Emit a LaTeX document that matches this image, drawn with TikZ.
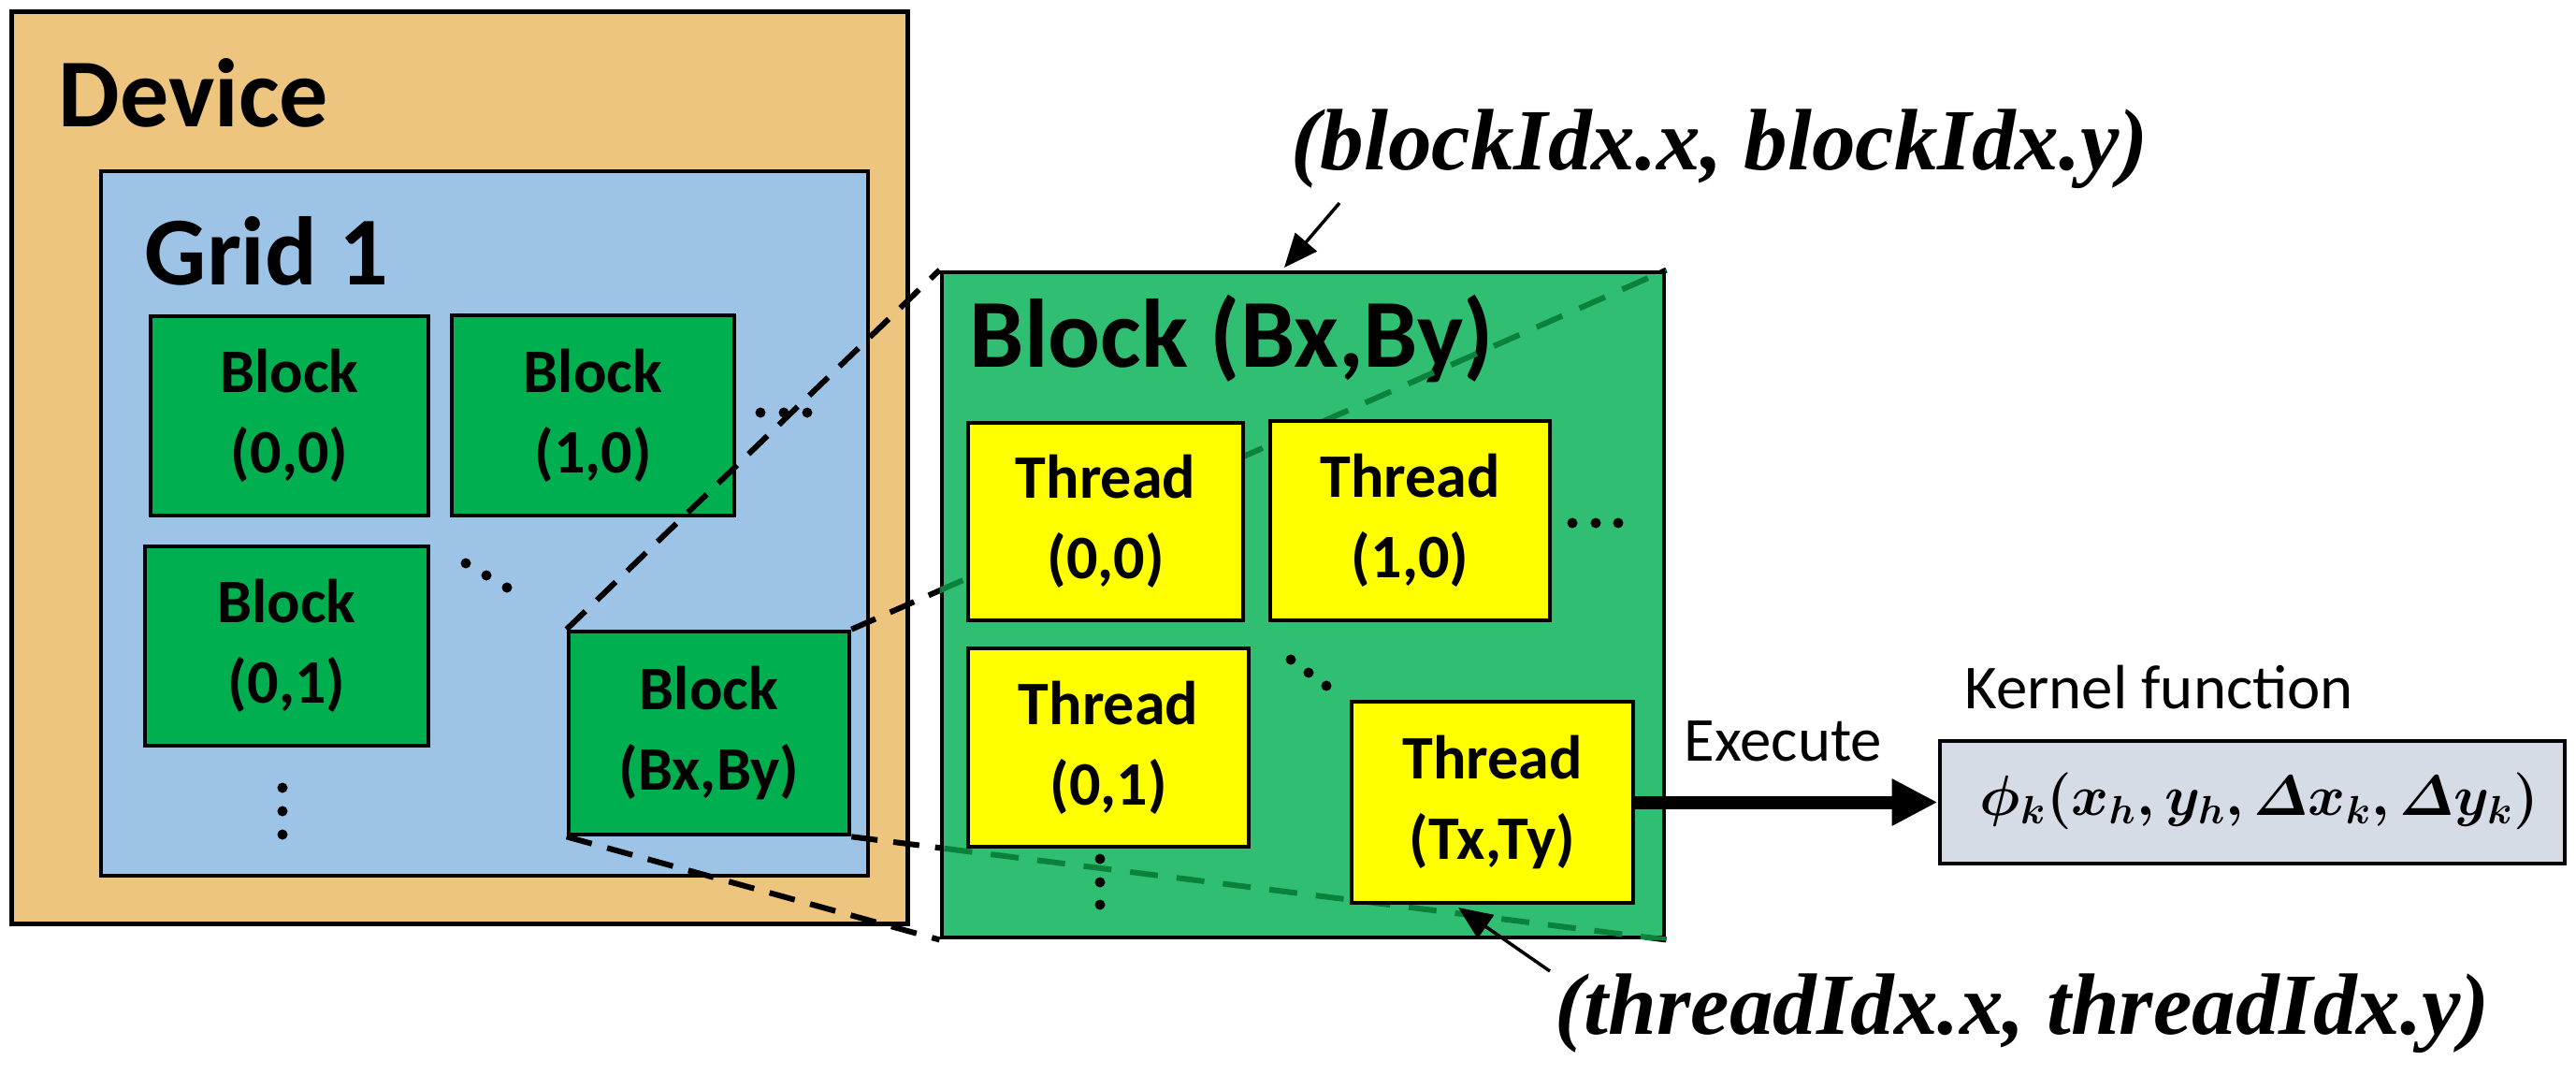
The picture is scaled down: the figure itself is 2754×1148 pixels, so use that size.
\documentclass[tikz,border=0pt]{standalone}
\usepackage{fontspec}
\setmainfont{Carlito}
\newfontfamily\tnr{Liberation Serif}
\usepackage{amsmath,bm}
\usetikzlibrary{arrows.meta}
\definecolor{devc}{RGB}{237,197,126}
\definecolor{gridc}{RGB}{157,195,230}
\definecolor{blkc}{RGB}{0,176,80}
\definecolor{bigc}{RGB}{48,190,115}
\definecolor{thrc}{RGB}{255,255,0}
\definecolor{kerc}{RGB}{214,220,229}
\definecolor{dgreen}{RGB}{10,130,60}
\begin{document}
\begin{tikzpicture}[x=0.01cm,y=-0.01cm,
  box/.style={draw=black, line width=0.045cm, inner sep=0pt, align=center},
  lbl/.style={font=\fontsize{18.8}{24.5}\selectfont\bfseries},
  title/.style={font=\fontsize{29.6}{36}\selectfont\bfseries, inner sep=0pt, anchor=base west},
  plain/.style={font=\fontsize{19}{23}\selectfont, inner sep=0pt, anchor=base west},
  idx/.style={font=\tnr\fontsize{26.5}{30}\selectfont\bfseries\itshape, inner sep=0pt, anchor=base west},
  bdash/.style={draw=black, line width=0.06cm, dash pattern=on 0.28cm off 0.17cm},
  gdash/.style={draw=dgreen, line width=0.06cm, dash pattern=on 0.3cm off 0.2cm},
  ann/.style={draw=black, line width=0.035cm, -{Triangle[length=0.36cm,width=0.3cm]}},
  dotc/.style={fill=black, draw=none}
]
\useasboundingbox (0,0) rectangle (2754,1148);

% Device and grid
\node[box, fill=devc, minimum width=9.57cm, minimum height=9.74cm] (dev) at (491.5,500) {};
\node[title] (devt) at (62,135) {Device};
\node[box, fill=gridc, minimum width=8.20cm, minimum height=7.53cm] (grid) at (518,559.5) {};
\node[title] (gridt) at (154,304) {Grid 1};

% blocks
\node[box, lbl, fill=blkc, minimum width=2.97cm, minimum height=2.13cm] (b00) at (309.5,444.5) {Block\\(0,0)};
\node[box, lbl, fill=blkc, minimum width=3.02cm, minimum height=2.14cm] (b10) at (634,444) {Block\\(1,0)};
\node[box, lbl, fill=blkc, minimum width=3.03cm, minimum height=2.13cm] (b01) at (306.5,690.5) {Block\\(0,1)};
\node[box, lbl, fill=blkc, minimum width=3.00cm, minimum height=2.17cm] (bxy) at (758,783.5) {Block\\(Bx,By)};

% block dots
\foreach \x/\y in {813/441, 838/441, 863/441, 498/602, 520/615, 542/628, 302/842, 302/867, 302/892}
  \fill[dotc] (\x,\y) circle (0.055cm);

% projection lines
\node[box, fill=bigc, minimum width=7.72cm, minimum height=7.11cm] (big) at (1393,646.5) {};
\draw[bdash] (bxy.north west) -- (big.north west);
\draw[bdash] (bxy.north east) -- (big.north east);
\draw[bdash] (bxy.south east) -- (big.south east);
\draw[bdash] (bxy.south west) -- (big.south west);
\node[box, fill=bigc, minimum width=7.72cm, minimum height=7.11cm] (big2) at (1393,646.5) {};
\node[title] (bigt) at (1036,392) {Block (Bx,By)};
\begin{scope}
  \clip (big2.north west) rectangle (big2.south east);
  \draw[gdash] (bxy.north east) -- (big2.north east);
  \draw[gdash] (bxy.south east) -- (big2.south east);
\end{scope}

% threads
\node[box, lbl, fill=thrc, minimum width=2.94cm, minimum height=2.11cm] (t00) at (1182,557.5) {Thread\\(0,0)};
\node[box, lbl, fill=thrc, minimum width=2.99cm, minimum height=2.13cm] (t10) at (1507.5,556.5) {Thread\\(1,0)};
\node[box, lbl, fill=thrc, minimum width=3.00cm, minimum height=2.12cm] (t01) at (1185,799) {Thread\\(0,1)};
\node[box, lbl, fill=thrc, minimum width=3.01cm, minimum height=2.15cm] (txy) at (1595.5,857.5) {Thread\\(Tx,Ty)};
\foreach \x/\y in {1681/559, 1706/559, 1730/559, 1380/705, 1399/719, 1418/733, 1176/918, 1176/943, 1176/967}
  \fill[dotc] (\x,\y) circle (0.055cm);

% kernel
\node[box, fill=kerc, minimum width=6.68cm, minimum height=1.31cm] (ker) at (2408,857.5) {};
\node[font=\fontsize{17.6}{20}\selectfont, inner sep=0pt, anchor=base west] (form) at (2116,871)
  {$\bm{\phi_k(x_h, y_h, \varDelta x_k, \varDelta y_k)}$};
\draw[line width=0.14cm, -{Triangle[length=0.49cm,width=0.47cm]}] (txy.east) -- (ker.west);
\node[plain] (exe) at (1800,813) {Execute};
\node[plain] (kft) at (2100,757) {Kernel function};

% index annotations
\node[idx] (bidx) at (1380,181) {(blockIdx.x, blockIdx.y)};
\node[idx] (tidx) at (1662,1105) {(threadIdx.x, threadIdx.y)};
\coordinate (ba) at (1432,217);
\coordinate (bb) at (1373,286);
\coordinate (ta) at (1657,1038);
\coordinate (tb) at (1559,970);
\draw[ann] (ba) -- (bb);
\draw[ann] (ta) -- (tb);
\end{tikzpicture}
\end{document}
